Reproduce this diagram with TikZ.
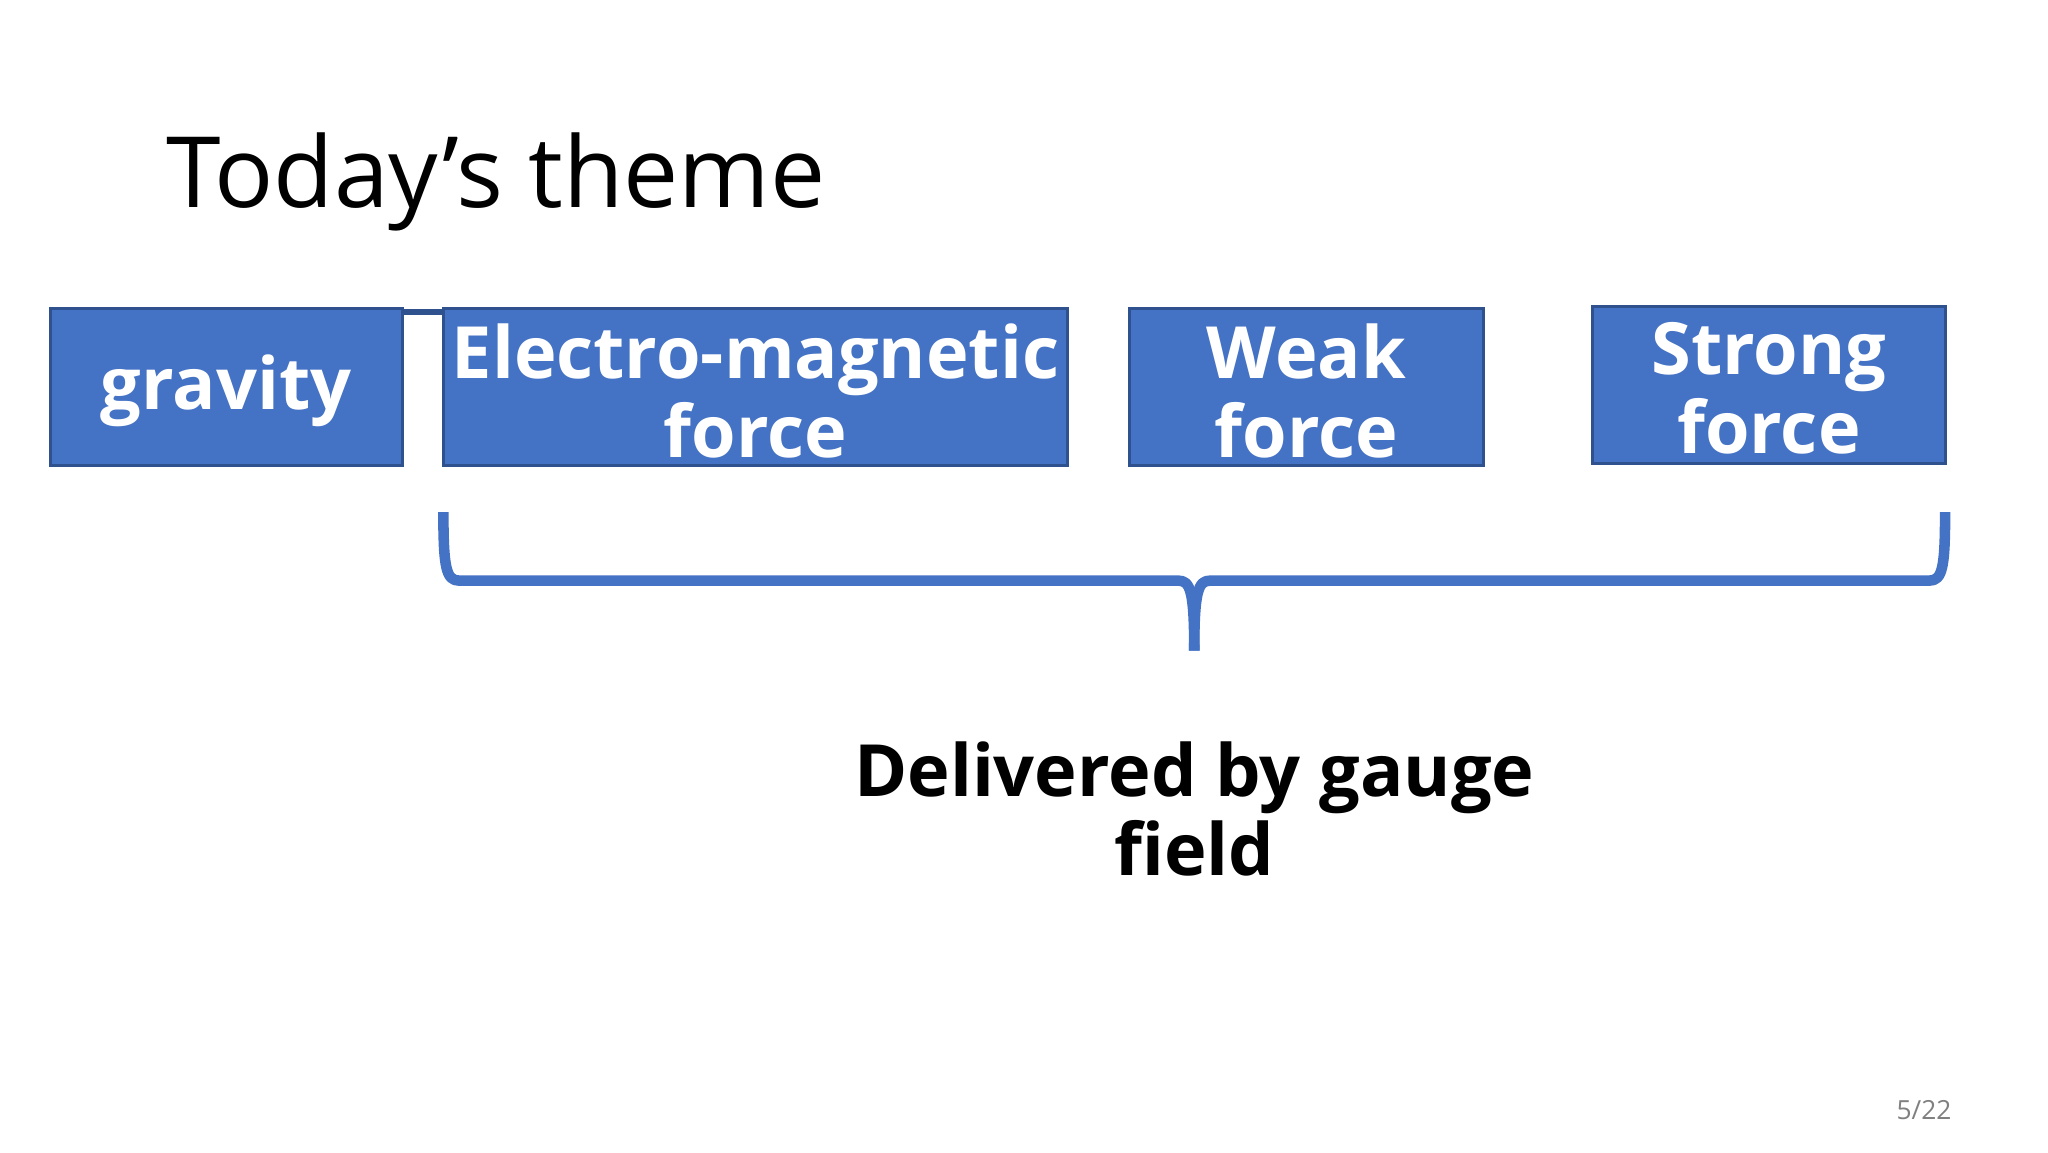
\documentclass[tikz,border=0pt]{standalone}
\usepackage{fontspec}
\setmainfont{Open Sans}
\begin{document}
\begin{tikzpicture}[x=0.013196cm,y=-0.013196cm,
  box/.style={draw=boxborder,line width=0.8pt,fill=boxfill,text=white,font=\fontsize{20.5}{22}\selectfont\bfseries,align=center,inner sep=0pt,anchor=north west},
  brace/.style={draw=boxfill,line width=3pt,line join=round}]
\definecolor{boxfill}{HTML}{4472C4}
\definecolor{boxborder}{HTML}{2F528F}
\useasboundingbox (0,0) rectangle (1552,873);
\node[anchor=base west,font=\fontsize{28}{30}\selectfont] (title) at (117,157) {Today’s theme};
\node[box,minimum width=267\pgflinewidth/0.8,text width=260] (g) at (38,234) {};
\draw[boxborder,line width=0.8pt,fill=boxfill] (38,234) rectangle (305,353);
\node[text=white,font=\fontsize{20.5}{22}\selectfont\bfseries] (gt) at (171.5,296) {gravity};
\draw[boxborder,line width=0.8pt,fill=boxfill] (336,234) rectangle (809,353);
\node[text=white,font=\fontsize{20.5}{22.5}\selectfont\bfseries,align=center] (em) at (572.5,296) {Electro-magnetic\\force};
\draw[boxborder,line width=0.8pt,fill=boxfill] (856,234) rectangle (1124,353);
\node[text=white,font=\fontsize{20.5}{22.5}\selectfont\bfseries,align=center] (w) at (990,296) {Weak\\force};
\draw[boxborder,line width=0.8pt,fill=boxfill] (1207,232) rectangle (1474,351);
\node[text=white,font=\fontsize{20.5}{22.5}\selectfont\bfseries,align=center] (s) at (1340.5,294) {Strong\\force};
\draw[brace] (336,388) .. controls (336,430) and (338,440) .. (348,440) -- (893,440)
  .. controls (902,440) and (905,448) .. (905,493);
\draw[brace] (1474,388) .. controls (1474,430) and (1472,440) .. (1462,440) -- (917,440)
  .. controls (908,440) and (905,448) .. (905,493);
\node[font=\fontsize{20.5}{22.5}\selectfont\bfseries,align=center] (d) at (905,613) {Delivered by gauge\\field};
\node[text=gray,font=\fontsize{7.5}{8}\selectfont] (p) at (1458,841) {5/22};
\end{tikzpicture}
\end{document}
